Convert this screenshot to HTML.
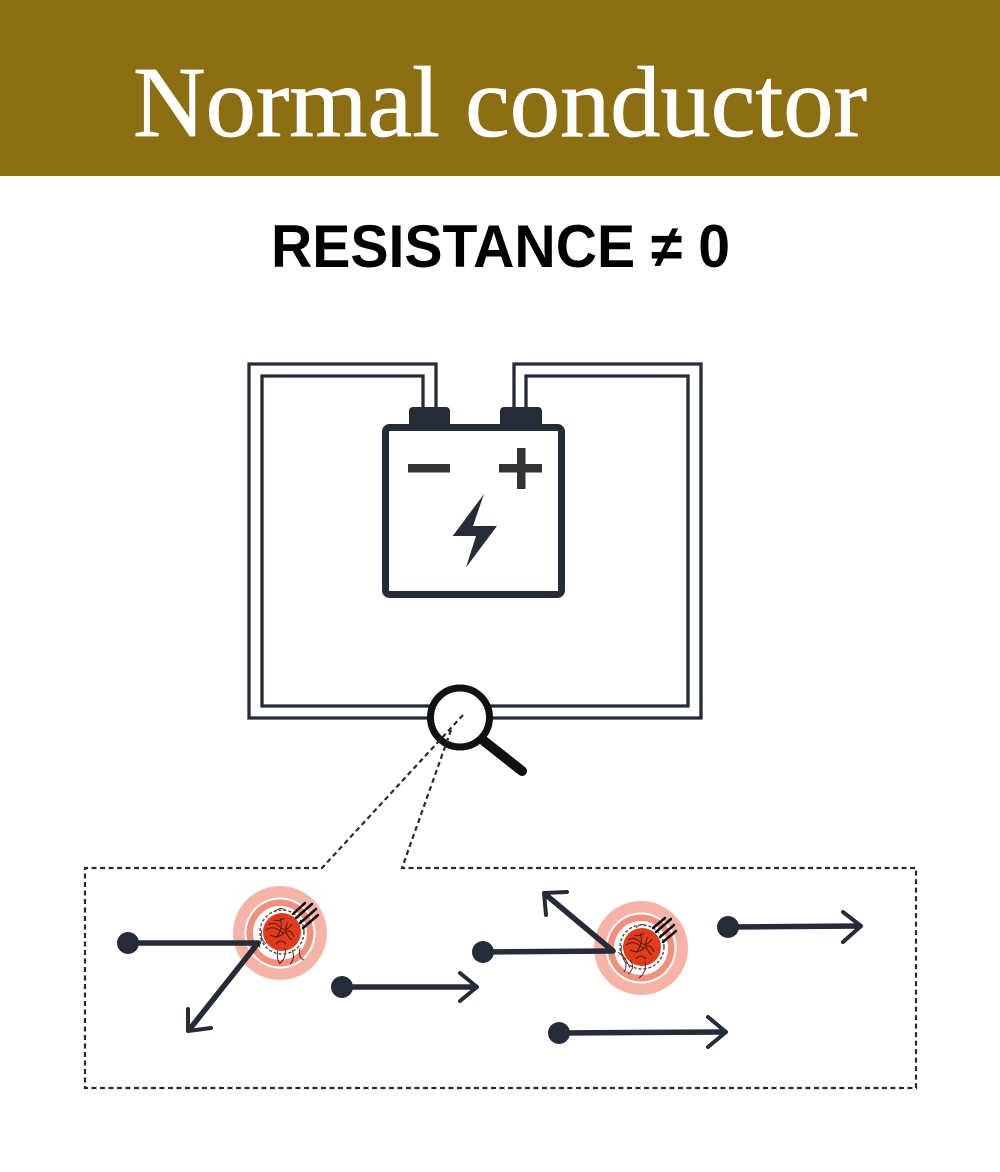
<!DOCTYPE html>
<html>
<head>
<meta charset="utf-8">
<style>
html,body{margin:0;padding:0;background:#fff;}
svg{display:block;}
</style>
</head>
<body>
<svg width="1000" height="1172" viewBox="0 0 1000 1172" xmlns="http://www.w3.org/2000/svg">
  <!-- header -->
  <rect x="0" y="0" width="1000" height="176" fill="#8C6F12"/>
  <text x="133" y="136" font-family="'Liberation Serif', serif" font-size="101" fill="#ffffff" stroke="#ffffff" stroke-width="0.8" textLength="734" lengthAdjust="spacingAndGlyphs">Normal conductor</text>
  <text x="271" y="267" font-family="'Liberation Sans', sans-serif" font-weight="bold" font-size="60" fill="#000" textLength="459" lengthAdjust="spacingAndGlyphs">RESISTANCE ≠ 0</text>

  <!-- wires -->
  <g fill="none" stroke="#262B38" stroke-width="3.3" stroke-linejoin="miter">
    <path d="M436,410 V364 H249 V718 H701 V364 H514 V410"/>
    <path d="M423,410 V376 H262 V706 H688 V376 H526 V410"/>
  </g>

  <!-- battery -->
  <rect x="409" y="407" width="41" height="22" rx="4" fill="#262B38"/>
  <rect x="500" y="407" width="42" height="22" rx="4" fill="#262B38"/>
  <rect x="385.5" y="427.5" width="176" height="167" rx="4" fill="#fff" stroke="#262B38" stroke-width="7"/>
  <rect x="408" y="464" width="42" height="8.5" fill="#333"/>
  <rect x="499" y="464" width="43" height="8.5" fill="#333"/>
  <rect x="517" y="448" width="8.5" height="41" fill="#333"/>
  <polygon points="484,494 452.7,536 476,536 466,567.5 497,526 473,526" fill="#262B38"/>

  <!-- magnifier -->
  <line x1="484" y1="741" x2="522" y2="771" stroke="#111" stroke-width="10" stroke-linecap="round"/>
  <circle cx="460" cy="717.5" r="29.5" fill="#fff" stroke="#111" stroke-width="7"/>

  <!-- dashed zoom box -->
  <path d="M463,715 L322,868 H85 V1088 H916 V868 H402 L451,730" fill="none" stroke="#2a2a2a" stroke-width="2.2" stroke-dasharray="5 3.5"/>

  <!-- ion halos -->
  <g>
    <circle cx="280" cy="933" r="47" fill="#F6B4A8"/>
    <circle cx="280" cy="933" r="35.5" fill="#fff"/>
    <circle cx="280" cy="933" r="33.5" fill="#F0907F"/>
    <circle cx="280" cy="933" r="27" fill="#fff"/>
    <circle cx="641" cy="948" r="47" fill="#F6B4A8"/>
    <circle cx="641" cy="948" r="35.5" fill="#fff"/>
    <circle cx="641" cy="948" r="33.5" fill="#F0907F"/>
    <circle cx="641" cy="948" r="27" fill="#fff"/>
  </g>

  <!-- electrons -->
  <g stroke="#262B38" fill="none" stroke-linecap="round" stroke-linejoin="round">
    <!-- e1 -->
    <line x1="128" y1="943" x2="258" y2="943" stroke-width="5.5"/>
    <line x1="258" y1="943" x2="189" y2="1030" stroke-width="5.5"/>
    <polyline points="188,1009 188,1031 211,1028" stroke-width="4"/>
    <!-- e2 -->
    <line x1="342" y1="987" x2="476" y2="987" stroke-width="5.5"/>
    <polyline points="460,973 477,987 460,1001" stroke-width="4"/>
    <!-- e3 -->
    <line x1="483" y1="952" x2="613" y2="951" stroke-width="5.5"/>
    <line x1="613" y1="951" x2="545" y2="894" stroke-width="5.5"/>
    <polyline points="567,892 544,893 546,915" stroke-width="4"/>
    <!-- e4 -->
    <line x1="728" y1="927" x2="860" y2="926" stroke-width="5.5"/>
    <polyline points="843,912 861,926 843,942" stroke-width="4"/>
    <!-- e5 -->
    <line x1="559" y1="1033" x2="725" y2="1032" stroke-width="5.5"/>
    <polyline points="708,1017 726,1032 708,1047" stroke-width="4"/>
  </g>
  <g fill="#262B38">
    <circle cx="128" cy="943" r="11"/>
    <circle cx="342" cy="987" r="11"/>
    <circle cx="483" cy="952" r="11"/>
    <circle cx="728" cy="927" r="11"/>
    <circle cx="559" cy="1033" r="11"/>
  </g>

  <!-- ion cores -->
  <g>
    <circle cx="282" cy="932" r="19" fill="#E23A1C"/>
    <g stroke="#3a1a12" stroke-width="1" fill="none" opacity="0.85">
      <path d="M268,925 q6,-4 12,2 t12,-3 M270,935 q8,4 14,-2 t10,4 M276,944 q5,-6 10,0 M274,920 q6,2 10,-2 M266,930 q8,-6 18,4 M280,918 q4,10 -4,20 M288,922 q-6,10 4,18"/>
      <circle cx="282" cy="932" r="22" stroke-dasharray="3 2" stroke-width="1.3"/>
      <path d="M262,930 q-3,8 4,14 M292,950 q4,8 -2,14 M285,948 q2,10 -6,16 M300,948 q-2,10 4,12 M275,912 q5,-6 10,-2 M262,940 q-4,4 -2,8 M278,950 q-2,8 2,14"/>
    </g>
    <g stroke="#111" stroke-width="2.5" stroke-linecap="round">
      <line x1="296" y1="918" x2="312" y2="904"/>
      <line x1="300" y1="923" x2="316" y2="909"/>
      <line x1="303" y1="928" x2="318" y2="915"/>
      <line x1="293" y1="914" x2="305" y2="903"/>
    </g>

    <circle cx="642" cy="947" r="19" fill="#E23A1C"/>
    <g stroke="#3a1a12" stroke-width="1" fill="none" opacity="0.85">
      <path d="M628,940 q6,-4 12,2 t12,-3 M630,950 q8,4 14,-2 t10,4 M636,959 q5,-6 10,0 M634,935 q6,2 10,-2 M626,945 q8,-6 18,4 M640,933 q4,10 -4,20 M648,937 q-6,10 4,18"/>
      <circle cx="642" cy="947" r="22" stroke-dasharray="3 2" stroke-width="1.3"/>
      <path d="M622,945 q-3,8 4,14 M630,960 q6,8 -2,14 M645,962 q2,10 -6,16 M618,952 q8,6 12,16 M636,928 q5,-6 10,-2 M624,960 q4,6 0,12"/>
    </g>
    <g stroke="#111" stroke-width="2.5" stroke-linecap="round">
      <line x1="656" y1="932" x2="671" y2="919"/>
      <line x1="660" y1="937" x2="674" y2="925"/>
      <line x1="663" y1="942" x2="676" y2="931"/>
      <line x1="653" y1="928" x2="665" y2="918"/>
    </g>
  </g>
</svg>
</body>
</html>
